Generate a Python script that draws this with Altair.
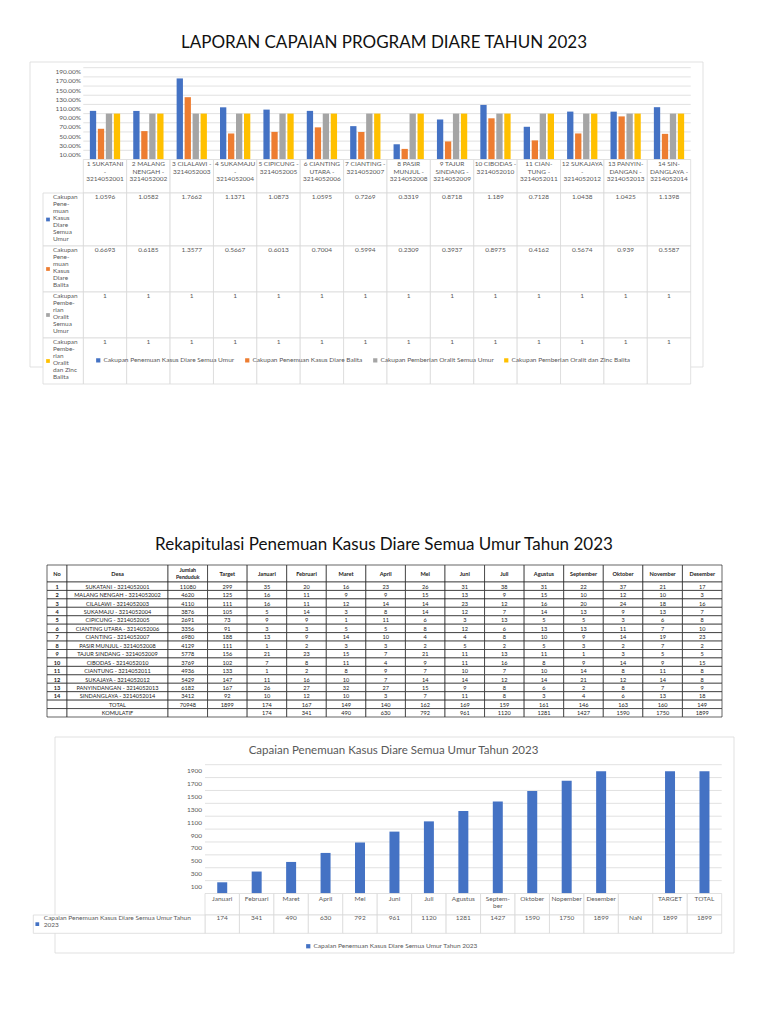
import altair as alt
import pandas as pd

FONT = "Lato"
GREY_TXT = "#595959"
LINE = "#d9d9d9"


def V(p):
    # page pixel -> view pixel (page has an 8px margin)
    return p - 8


# ---------------- data : top chart ----------------
title_main = ["LAPORAN CAPAIAN PROGRAM DIARE TAHUN 2023"]
village_labels = [
    "1 SUKATANI\n-\n3214052001", "2 MALANG\nNENGAH -\n3214052002", "3 CILALAWI -\n3214052003",
    "4 SUKAMAJU\n-\n3214052004", "5 CIPICUNG -\n3214052005", "6 CIANTING\nUTARA -\n3214052006",
    "7 CIANTING -\n3214052007", "8 PASIR\nMUNJUL -\n3214052008", "9 TAJUR\nSINDANG -\n3214052009",
    "10 CIBODAS -\n3214052010", "11 CIAN-\nTUNG -\n3214052011", "12 SUKAJAYA\n-\n3214052012",
    "13 PANYIN-\nDANGAN -\n3214052013", "14 SIN-\nDANGLAYA -\n3214052014",
]
series_names = [
    "Cakupan Penemuan Kasus Diare Semua Umur",
    "Cakupan Penemuan Kasus Diare Balita",
    "Cakupan Pemberian Oralit Semua Umur",
    "Cakupan Pemberian Oralit dan Zinc Balita",
]
series_row_labels = [
    "Cakupan\nPene-\nmuan\nKasus\nDiare\nSemua\nUmur",
    "Cakupan\nPene-\nmuan\nKasus\nDiare\nBalita",
    "Cakupan\nPembe-\nrian\nOralit\nSemua\nUmur",
    "Cakupan\nPembe-\nrian\nOralit\ndan Zinc\nBalita",
]
series_colors = ["#4472C4", "#ED7D31", "#A5A5A5", "#FFC000"]
cak_semua = [1.0596, 1.0582, 1.7662, 1.1371, 1.0873, 1.0595, 0.7269, 0.3319, 0.8718, 1.189, 0.7128, 1.0438, 1.0425, 1.1398]
cak_balita = [0.6693, 0.6185, 1.3577, 0.5667, 0.6013, 0.7004, 0.5994, 0.2309, 0.3937, 0.8975, 0.4162, 0.5674, 0.939, 0.5587]
oralit_semua = [1, 1, 1, 1, 1, 1, 1, 1, 1, 1, 1, 1, 1, 1]
zinc_balita = [1, 1, 1, 1, 1, 1, 1, 1, 1, 1, 1, 1, 1, 1]
top_axis_ticks = [0.1, 0.3, 0.5, 0.7, 0.9, 1.1, 1.3, 1.5, 1.7, 1.9]
top_grid_values = [0.2, 0.4, 0.6, 0.8, 1.0, 1.2, 1.4, 1.6, 1.8, 2.0]

# ---------------- data : recap table ----------------
title_recap = ["Rekapitulasi Penemuan Kasus Diare Semua Umur Tahun 2023"]
recap_no = ["1", "2", "3", "4", "5", "6", "7", "8", "9", "10", "11", "12", "13", "14", "", ""]
recap_desa = [
    "SUKATANI - 3214052001", "MALANG NENGAH - 3214052002", "CILALAWI - 3214052003",
    "SUKAMAJU - 3214052004", "CIPICUNG - 3214052005", "CIANTING UTARA - 3214052006",
    "CIANTING - 3214052007", "PASIR MUNJUL - 3214052008", "TAJUR SINDANG - 3214052009",
    "CIBODAS - 3214052010", "CIANTUNG - 3214052011", "SUKAJAYA - 3214052012",
    "PANYINDANGAN - 3214052013", "SINDANGLAYA - 3214052014", "TOTAL", "KOMULATIF",
]
recap_penduduk = ["11080", "4620", "4110", "3876", "2691", "3356", "6980", "4129", "5778", "3769", "4936", "5429", "6182", "3412", "70948", ""]
recap_target = ["299", "125", "111", "105", "73", "91", "188", "111", "156", "102", "133", "147", "167", "92", "1899", ""]
month_names = ["Januari", "Februari", "Maret", "April", "Mei", "Juni", "Juli",
               "Agustus", "September", "Oktober", "November", "Desember"]
cases_by_village = [
    [35, 20, 16, 23, 26, 31, 38, 31, 22, 37, 21, 17],
    [16, 11, 9, 9, 15, 13, 9, 15, 10, 12, 10, 3],
    [16, 11, 12, 14, 14, 23, 12, 16, 20, 24, 18, 16],
    [5, 14, 3, 8, 14, 12, 7, 14, 13, 9, 13, 7],
    [9, 9, 1, 11, 6, 3, 13, 5, 5, 3, 6, 8],
    [3, 3, 5, 5, 8, 12, 6, 13, 13, 11, 7, 10],
    [13, 9, 14, 10, 4, 4, 8, 10, 9, 14, 19, 23],
    [1, 2, 3, 3, 2, 5, 2, 5, 3, 2, 7, 2],
    [21, 23, 15, 7, 21, 11, 13, 11, 1, 3, 5, 5],
    [7, 8, 11, 4, 9, 11, 16, 8, 9, 14, 9, 15],
    [1, 2, 8, 9, 7, 10, 7, 10, 14, 8, 11, 8],
    [11, 16, 10, 7, 14, 14, 12, 14, 21, 12, 14, 8],
    [26, 27, 32, 27, 15, 9, 8, 6, 2, 8, 7, 9],
    [10, 12, 10, 3, 7, 11, 8, 3, 4, 6, 13, 18],
]
cases_total = [174, 167, 149, 140, 162, 169, 159, 161, 146, 163, 160, 149]
cases_komulatif = [174, 341, 490, 630, 792, 961, 1120, 1281, 1427, 1590, 1750, 1899]

# ---------------- data : bottom chart ----------------
title_bottom = ["Capaian Penemuan Kasus Diare Semua Umur Tahun 2023"]
bottom_series = ["Capaian Penemuan Kasus Diare Semua Umur Tahun 2023"]
bottom_row_label = ["Capaian Penemuan Kasus Diare Semua Umur Tahun\n2023"]
bottom_headers = ["Januari", "Februari", "Maret", "April", "Mei", "Juni", "Juli", "Agustus",
                  "Septem-\nber", "Oktober", "Nopember", "Desember", "", "TARGET", "TOTAL"]
bottom_values = [174, 341, 490, 630, 792, 961, 1120, 1281, 1427, 1590, 1750, 1899, None, 1899, 1899]
bottom_axis_ticks = [100, 300, 500, 700, 900, 1100, 1300, 1500, 1700, 1900]
bottom_grid_values = [200, 400, 600, 800, 1000, 1200, 1400, 1600, 1800, 2000]

# ---------------- frames ----------------
one = pd.DataFrame({"a": [0]})

top_rows = []
for s, vals in zip(series_names, [cak_semua, cak_balita, oralit_semua, zinc_balita]):
    for v, val in zip(village_labels, vals):
        top_rows.append({"village": v, "series": s, "value": val, "text": str(val)})
df_top = pd.DataFrame(top_rows)
df_top_hdr = pd.DataFrame({"village": village_labels, "row": ["h"] * len(village_labels)})
df_top_lbl = pd.DataFrame({"col": ["lbl"] * 4, "series": series_names, "label": series_row_labels})

row_keys = [f"r{i:02d}" for i in range(len(recap_desa))]
num_cols = ["Jumlah Penduduk", "Target"] + month_names
num_headers = ["Jumlah\nPenduduk", "Target"] + month_names
body_months = [[str(x) for x in r] for r in cases_by_village] + \
    [[str(x) for x in cases_total], [str(x) for x in cases_komulatif]]
num_rows = []
for i, rk in enumerate(row_keys):
    vals = [recap_penduduk[i], recap_target[i]] + body_months[i]
    for c, t in zip(num_cols, vals):
        num_rows.append({"row": rk, "col": c, "text": t})
df_num = pd.DataFrame(num_rows)
df_num_hdr = pd.DataFrame({"row": ["h"] * len(num_cols), "col": num_cols, "text": num_headers})
df_num_hdr_multi = df_num_hdr[df_num_hdr["text"].str.contains("\n")]
df_num_hdr_single = df_num_hdr[~df_num_hdr["text"].str.contains("\n")]
df_no = pd.DataFrame({"row": row_keys, "col": ["No"] * len(row_keys), "text": recap_no})
df_desa = pd.DataFrame({"row": row_keys, "col": ["Desa"] * len(row_keys), "text": recap_desa})
df_no_hdr = pd.DataFrame({"row": ["h"], "col": ["No"], "text": ["No"]})
df_desa_hdr = pd.DataFrame({"row": ["h"], "col": ["Desa"], "text": ["Desa"]})

bottom_keys = [f"c{i:02d}" for i in range(len(bottom_headers))]
df_bot = pd.DataFrame({
    "key": bottom_keys,
    "header": bottom_headers,
    "value": bottom_values,
    "text": ["NaN" if v is None else str(v) for v in bottom_values],
    "series": bottom_series * len(bottom_keys),
})
df_bot_lbl = pd.DataFrame({"col": ["lbl"], "row": ["v"], "label": bottom_row_label, "series": bottom_series})

# ---------------- scales ----------------
TOP_HDR = (159.5, 193.0)
top_x = alt.Scale(domain=village_labels, range=[V(83.3), V(690.7)], paddingInner=0, paddingOuter=0)
top_y = alt.Scale(domain=[0, 2.0], range=[V(159.5), V(67.7)], nice=False, zero=True)
top_hdr_y = alt.Scale(domain=["h"], range=[V(TOP_HDR[0]), V(TOP_HDR[1])], paddingInner=0, paddingOuter=0)
top_lbl_x = alt.Scale(domain=["lbl"], range=[V(43), V(83.3)], paddingInner=0, paddingOuter=0)
top_color = alt.Scale(domain=series_names, range=series_colors)
top_hdr_half = (TOP_HDR[1] - TOP_HDR[0]) / 2
top_lbl_half = (83.3 - 43) / 2
# first value row is taller than the others (as in the reference)
top_row_groups = [(series_names[:1], (193.0, 246.0)), (series_names[1:], (246.0, 384.0))]

no_x = alt.Scale(domain=["No"], range=[V(47), V(67)], paddingInner=0, paddingOuter=0)
desa_x = alt.Scale(domain=["Desa"], range=[V(67), V(168)], paddingInner=0, paddingOuter=0)
num_x = alt.Scale(domain=num_cols, range=[V(168), V(722)], paddingInner=0, paddingOuter=0)
rec_hdr_y = alt.Scale(domain=["h"], range=[V(565), V(582)], paddingInner=0, paddingOuter=0)
rec_row_y = alt.Scale(domain=row_keys, range=[V(582), V(717)], paddingInner=0, paddingOuter=0)

BOT_HDR = (893.5, 915.0)
BOT_VAL = (915.0, 933.3)
BOT_LBL = (33.3, 205.0)
bot_x = alt.Scale(domain=bottom_keys, range=[V(205), V(721.7)], paddingInner=0, paddingOuter=0)
bot_bar_x = alt.Scale(domain=bottom_keys, range=[V(205), V(721.7)], paddingInner=0.71, paddingOuter=0.355)
bot_y = alt.Scale(domain=[0, 2000], range=[V(893.5), V(764.7)], nice=False, zero=True)
bot_hdr_y = alt.Scale(domain=["h"], range=[V(BOT_HDR[0]), V(BOT_HDR[1])], paddingInner=0, paddingOuter=0)
bot_val_y = alt.Scale(domain=["v"], range=[V(BOT_VAL[0]), V(BOT_VAL[1])], paddingInner=0, paddingOuter=0)
bot_lbl_x = alt.Scale(domain=["lbl"], range=[V(BOT_LBL[0]), V(BOT_LBL[1])], paddingInner=0, paddingOuter=0)
bot_color = alt.Scale(domain=bottom_series, range=["#4472C4"])
bot_hdr_half = (BOT_HDR[1] - BOT_HDR[0]) / 2
bot_val_half = (BOT_VAL[1] - BOT_VAL[0]) / 2
bot_lbl_half = (BOT_LBL[1] - BOT_LBL[0]) / 2

layers = []

# ================= TOP SECTION =================
layers.append(alt.Chart(pd.DataFrame({"t": title_main})).mark_text(
    align="center", baseline="middle", font=FONT, fontSize=17, color="#111111"
).encode(x=alt.value(V(384)), y=alt.value(V(43)), text="t:N"))

layers.append(alt.Chart(one).mark_rect(fill="white", stroke=LINE, strokeWidth=0.8).encode(
    x=alt.value(V(30)), x2=alt.value(V(703)), y=alt.value(V(62)), y2=alt.value(V(367))))

layers.append(alt.Chart(pd.DataFrame({"g": top_grid_values})).mark_rule(color=LINE, strokeWidth=0.8).encode(
    y=alt.Y("g:Q", scale=top_y, axis=None),
    x=alt.value(V(83.3)), x2=alt.value(V(690.7))))

# y-axis labels of the top chart
layers.append(alt.Chart(pd.DataFrame({"t": top_axis_ticks})).mark_text(
    align="right", baseline="middle", font=FONT, fontSize=6.5, color=GREY_TXT
).encode(
    y=alt.Y("t:Q", scale=top_y, axis=None),
    x=alt.value(V(81)),
    text=alt.Text("t:Q", format=".2%")))

layers.append(alt.Chart(df_top).mark_bar().encode(
    x=alt.X("village:N", scale=top_x, axis=None),
    xOffset=alt.XOffset("series:N", scale=alt.Scale(domain=series_names, paddingInner=0.21, paddingOuter=0.82)),
    y=alt.Y("value:Q", scale=top_y, axis=None),
    color=alt.Color("series:N", scale=top_color, legend=alt.Legend(
        orient="none", legendX=V(95), legendY=V(357), direction="horizontal", title=None,
        symbolType="square", symbolSize=18, symbolStrokeWidth=0, labelFont=FONT,
        labelFontSize=6.5, labelColor=GREY_TXT, columnPadding=9, labelOffset=2, labelLimit=400)),
))

# table under top chart : header row
layers.append(alt.Chart(df_top_hdr).mark_rect(fill="white", stroke=LINE, strokeWidth=0.8).encode(
    x=alt.X("village:N", scale=top_x, axis=None),
    y=alt.Y("row:N", scale=top_hdr_y, axis=None)))
layers.append(alt.Chart(df_top_hdr).mark_text(
    align="center", baseline="middle", lineBreak="\n", font=FONT, fontSize=6.5, lineHeight=7.5,
    color=GREY_TXT, dy=-top_hdr_half + 4.5
).encode(
    x=alt.X("village:N", scale=top_x, axis=None),
    y=alt.Y("row:N", scale=top_hdr_y, axis=None),
    text="village:N"))

# value rows (two groups with their own row heights)
for subset, (y0, y1) in top_row_groups:
    ysc = alt.Scale(domain=subset, range=[V(y0), V(y1)], paddingInner=0, paddingOuter=0)
    half = (y1 - y0) / len(subset) / 2
    d_cells = df_top[df_top["series"].isin(subset)]
    d_lbl = df_top_lbl[df_top_lbl["series"].isin(subset)]
    layers.append(alt.Chart(d_cells).mark_rect(fill="white", stroke=LINE, strokeWidth=0.8).encode(
        x=alt.X("village:N", scale=top_x, axis=None),
        y=alt.Y("series:N", scale=ysc, axis=None)))
    layers.append(alt.Chart(d_cells).mark_text(
        align="center", baseline="middle", font=FONT, fontSize=6.5, color=GREY_TXT,
        dy=-half + 4
    ).encode(
        x=alt.X("village:N", scale=top_x, axis=None),
        y=alt.Y("series:N", scale=ysc, axis=None),
        text="text:N"))
    layers.append(alt.Chart(d_lbl).mark_rect(fill="white", stroke=LINE, strokeWidth=0.8).encode(
        x=alt.X("col:N", scale=top_lbl_x, axis=None),
        y=alt.Y("series:N", scale=ysc, axis=None)))
    layers.append(alt.Chart(d_lbl).mark_text(
        align="left", baseline="middle", lineBreak="\n", font=FONT, fontSize=6.4, lineHeight=7.05,
        color=GREY_TXT, dx=-top_lbl_half + 10, dy=-half + 4
    ).encode(
        x=alt.X("col:N", scale=top_lbl_x, axis=None),
        y=alt.Y("series:N", scale=ysc, axis=None),
        text="label:N"))
    layers.append(alt.Chart(d_lbl).mark_square(size=14, opacity=1, xOffset=-top_lbl_half + 5).encode(
        x=alt.X("col:N", scale=top_lbl_x, axis=None),
        y=alt.Y("series:N", scale=ysc, axis=None),
        color=alt.Color("series:N", scale=top_color, legend=None)))

# ================= RECAP TABLE =================
layers.append(alt.Chart(pd.DataFrame({"t": title_recap})).mark_text(
    align="center", baseline="middle", font=FONT, fontSize=17, color="#111111"
).encode(x=alt.value(V(384)), y=alt.value(V(545)), text="t:N"))


def cell_layers(df, xscale, yscale, bold, size=5.6, dy=0.5, rect=True):
    out = []
    if rect:
        out.append(alt.Chart(df).mark_rect(fill="white", stroke="#222222", strokeWidth=0.7).encode(
            x=alt.X("col:N", scale=xscale, axis=None),
            y=alt.Y("row:N", scale=yscale, axis=None)))
    out.append(alt.Chart(df).mark_text(
        align="center", baseline="middle", lineBreak="\n", font=FONT, fontSize=size,
        lineHeight=7.2, fontWeight="bold" if bold else "normal", color="#222222", dy=dy
    ).encode(
        x=alt.X("col:N", scale=xscale, axis=None),
        y=alt.Y("row:N", scale=yscale, axis=None),
        text="text:N"))
    return out


layers += cell_layers(df_no_hdr, no_x, rec_hdr_y, True)
layers += cell_layers(df_desa_hdr, desa_x, rec_hdr_y, True)
layers += cell_layers(df_num_hdr, num_x, rec_hdr_y, True, rect=True)[:1]
layers += cell_layers(df_num_hdr_single, num_x, rec_hdr_y, True, rect=False)
layers += cell_layers(df_num_hdr_multi, num_x, rec_hdr_y, True, size=5.3, dy=-3.2, rect=False)
layers += cell_layers(df_no, no_x, rec_row_y, True)
layers += cell_layers(df_desa, desa_x, rec_row_y, False)
layers += cell_layers(df_num, num_x, rec_row_y, False)

# ================= BOTTOM SECTION =================
layers.append(alt.Chart(one).mark_rect(fill="white", stroke=LINE, strokeWidth=0.8).encode(
    x=alt.value(V(55)), x2=alt.value(V(734)), y=alt.value(V(737)), y2=alt.value(V(953))))
layers.append(alt.Chart(pd.DataFrame({"t": title_bottom})).mark_text(
    align="center", baseline="middle", font=FONT, fontSize=11.5, color=GREY_TXT
).encode(x=alt.value(V(393.5)), y=alt.value(V(751)), text="t:N"))

layers.append(alt.Chart(pd.DataFrame({"g": bottom_grid_values})).mark_rule(color=LINE, strokeWidth=0.8).encode(
    y=alt.Y("g:Q", scale=bot_y, axis=None),
    x=alt.value(V(205)), x2=alt.value(V(721.7))))

layers.append(alt.Chart(pd.DataFrame({"t": bottom_axis_ticks})).mark_text(
    align="right", baseline="middle", font=FONT, fontSize=6.5, color=GREY_TXT
).encode(
    y=alt.Y("t:Q", scale=bot_y, axis=None),
    x=alt.value(V(202)),
    text=alt.Text("t:Q", format="d")))

layers.append(alt.Chart(df_bot).mark_bar(color="#4472C4").encode(
    x=alt.X("key:N", scale=bot_bar_x, axis=None),
    y=alt.Y("value:Q", scale=bot_y, axis=None),
    color=alt.Color("series:N", scale=bot_color, legend=alt.Legend(
        orient="none", legendX=V(305), legendY=V(943), direction="horizontal", title=None,
        symbolType="square", symbolSize=18, symbolStrokeWidth=0, labelFont=FONT,
        labelFontSize=6.5, labelColor=GREY_TXT, labelOffset=2, labelLimit=400)),
))

df_bot_hdr = df_bot.assign(row="h")
df_bot_val = df_bot.assign(row="v")
layers.append(alt.Chart(df_bot_hdr).mark_rect(fill="white", stroke=LINE, strokeWidth=0.8).encode(
    x=alt.X("key:N", scale=bot_x, axis=None),
    y=alt.Y("row:N", scale=bot_hdr_y, axis=None)))
layers.append(alt.Chart(df_bot_hdr).mark_text(
    align="center", baseline="middle", lineBreak="\n", font=FONT, fontSize=6.5, lineHeight=7,
    color=GREY_TXT, dy=-bot_hdr_half + 5.5
).encode(
    x=alt.X("key:N", scale=bot_x, axis=None),
    y=alt.Y("row:N", scale=bot_hdr_y, axis=None),
    text="header:N"))
layers.append(alt.Chart(df_bot_val).mark_rect(fill="white", stroke=LINE, strokeWidth=0.8).encode(
    x=alt.X("key:N", scale=bot_x, axis=None),
    y=alt.Y("row:N", scale=bot_val_y, axis=None)))
layers.append(alt.Chart(df_bot_val).mark_text(
    align="center", baseline="middle", font=FONT, fontSize=6.5, color=GREY_TXT,
    dy=-bot_val_half + 3.2
).encode(
    x=alt.X("key:N", scale=bot_x, axis=None),
    y=alt.Y("row:N", scale=bot_val_y, axis=None),
    text="text:N"))
layers.append(alt.Chart(df_bot_lbl).mark_rect(fill="white", stroke=LINE, strokeWidth=0.8).encode(
    x=alt.X("col:N", scale=bot_lbl_x, axis=None),
    y=alt.Y("row:N", scale=bot_val_y, axis=None)))
layers.append(alt.Chart(df_bot_lbl).mark_text(
    align="left", baseline="middle", lineBreak="\n", font=FONT, fontSize=6.5, lineHeight=7,
    color=GREY_TXT, dx=-bot_lbl_half + 10.5, dy=-bot_val_half + 3.2
).encode(
    x=alt.X("col:N", scale=bot_lbl_x, axis=None),
    y=alt.Y("row:N", scale=bot_val_y, axis=None),
    text="label:N"))
layers.append(alt.Chart(df_bot_lbl).mark_square(size=14, opacity=1, xOffset=-bot_lbl_half + 4).encode(
    x=alt.X("col:N", scale=bot_lbl_x, axis=None),
    y=alt.Y("row:N", scale=bot_val_y, axis=None),
    color=alt.Color("series:N", scale=bot_color, legend=None)))

chart = alt.layer(*layers).resolve_scale(
    x="independent", y="independent", color="independent"
).properties(
    width=752, height=1008, autosize="none", padding=0, background="white"
).configure_view(stroke=None)

chart.save("out.html", embed_options={"renderer": "svg", "actions": False})
